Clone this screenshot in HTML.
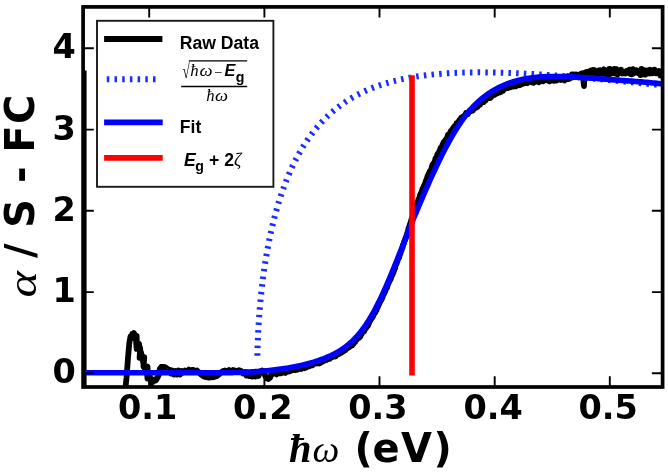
<!DOCTYPE html>
<html><head><meta charset="utf-8"><title>Absorption fit</title>
<style>html,body{margin:0;padding:0;background:#fff}svg{display:block}</style></head>
<body><svg width="668" height="472" viewBox="0 0 668 472">
<defs><clipPath id="ax"><rect x="83.1" y="6.9" width="579.5" height="380.1"/></clipPath></defs>
<rect width="668" height="472" fill="#fff"/>
<g clip-path="url(#ax)" fill="none" stroke-linejoin="round">
<path d="M83.69999999999999,70.5 V392" stroke="#000" stroke-width="5.8"/>
<path d="M125.00,392.00 L126.50,378.00 L128.00,358.00 L129.30,343.00 L130.50,336.50 L131.30,338.50 L132.20,334.00 L133.20,336.00 L134.00,333.00 L134.60,338.50 L136.64,335.73 L136.75,343.96 L135.95,339.70 L136.67,348.93 L139.00,343.66 L140.56,353.89 L140.16,348.12 L139.60,357.86 L140.95,352.09 L143.32,362.82 L144.28,357.05 L143.55,366.78 L143.44,361.52 L145.33,370.75 L147.50,366.48 L147.84,374.71 L147.01,371.45 L147.49,378.68 L149.74,376.41 L151.50,382.14 L151.20,383.50 L152.00,380.50 L152.80,382.00 L154.30,379.50 L155.80,380.50 L157.30,378.00 L158.80,375.00 L159.80,369.00 L161.30,367.00 L163.00,366.80 L165.00,367.20 L167.00,368.50 L168.70,370.50 L170.00,370.00 L171.00,373.50 L172.50,370.50 L174.00,374.50 L175.50,371.00 L177.00,374.50 L178.50,370.50 L180.00,374.50 L181.50,371.00 L183.00,372.50 L185.00,370.50 L187.00,371.50 L189.00,369.50 L191.00,370.50 L193.00,369.80 L195.00,371.00 L197.00,370.50 L199.00,372.50 L201.00,374.50 L203.00,376.00 L205.00,377.00 L208.00,377.50 L211.00,377.30 L214.00,377.00 L217.00,376.00 L219.00,374.50 L221.00,372.50 L223.00,371.00 L225.00,370.50 L227.00,371.50 L229.00,370.00 L231.00,371.50 L233.00,370.00 L235.00,370.50 L237.00,372.00 L239.00,370.20 L241.00,371.00 L243.00,373.50 L245.00,372.00 L246.50,375.50 L248.00,372.50 L249.50,376.00 L251.00,373.00 L252.50,376.50 L254.00,372.50 L255.50,376.50 L257.00,373.00 L258.50,376.00 L260.00,371.50 L262.00,370.50 L264.00,372.50 L265.50,376.50 L267.00,378.50 L268.50,379.00 L270.00,377.82 L270.50,376.30 L271.00,375.57 L271.50,373.56 L272.00,374.38 L272.50,373.92 L273.00,373.80 L273.50,373.12 L274.00,373.42 L274.50,373.00 L275.00,372.26 L275.50,373.86 L276.00,373.76 L276.50,374.30 L277.00,372.96 L277.50,372.53 L278.00,372.34 L278.50,371.52 L279.00,373.31 L279.50,371.69 L280.00,371.55 L280.50,372.19 L281.00,373.34 L281.50,372.35 L282.00,371.36 L282.50,371.50 L283.00,372.38 L283.50,371.73 L284.00,371.22 L284.50,371.52 L285.00,372.12 L285.50,372.88 L286.00,370.56 L286.50,370.90 L287.00,370.69 L287.50,369.78 L288.00,370.42 L288.50,370.26 L289.00,371.61 L289.50,370.66 L290.00,369.56 L290.50,370.97 L291.00,370.20 L291.50,369.18 L292.00,369.82 L292.50,369.71 L293.00,369.42 L293.50,369.88 L294.00,368.46 L294.50,369.45 L295.00,370.14 L295.50,369.92 L296.00,369.95 L296.50,369.83 L297.00,369.92 L297.50,368.18 L298.00,369.26 L298.50,367.48 L299.00,368.11 L299.50,367.19 L300.00,368.84 L300.50,368.87 L301.00,367.82 L301.50,368.86 L302.00,367.26 L302.50,367.61 L303.00,367.47 L303.50,366.60 L304.00,367.36 L304.50,368.11 L305.00,366.20 L305.50,367.20 L306.00,366.43 L306.50,367.43 L307.00,366.52 L307.50,366.49 L308.00,366.32 L308.50,365.94 L309.00,364.82 L309.50,366.32 L310.00,364.54 L310.50,365.35 L311.00,365.42 L311.50,364.41 L312.00,364.84 L312.50,365.28 L313.00,364.43 L313.50,363.76 L314.00,362.95 L314.50,363.40 L315.00,363.46 L315.50,363.34 L316.00,362.91 L316.50,363.53 L317.00,362.80 L317.50,362.90 L318.00,363.19 L318.50,362.12 L319.00,362.27 L319.50,363.43 L320.00,362.59 L320.50,361.16 L321.00,361.67 L321.50,361.86 L322.00,362.06 L322.50,361.24 L323.00,360.66 L323.50,360.35 L324.00,360.95 L324.50,360.56 L325.00,359.88 L325.50,359.86 L326.00,359.53 L326.50,359.97 L327.00,358.95 L327.50,359.41 L328.00,359.40 L328.50,358.97 L329.00,358.00 L329.50,359.02 L330.00,357.63 L330.50,358.03 L331.00,357.13 L331.50,356.33 L332.00,357.22 L332.50,357.02 L333.00,356.57 L333.50,356.53 L334.00,355.76 L334.50,355.46 L335.00,355.54 L335.50,356.46 L336.00,355.58 L336.50,354.57 L337.00,354.92 L337.50,354.07 L338.00,353.81 L338.50,354.28 L339.00,353.22 L339.50,352.30 L340.00,352.45 L340.50,352.72 L341.00,352.44 L341.50,352.77 L342.00,351.37 L342.50,351.87 L343.00,351.39 L343.50,350.75 L344.00,350.97 L344.50,350.45 L345.00,349.37 L345.50,350.10 L346.00,348.48 L346.50,348.84 L347.00,348.45 L347.50,348.31 L348.00,347.30 L348.50,347.30 L349.00,346.86 L349.50,347.09 L350.00,345.70 L350.50,345.77 L351.00,345.17 L351.50,344.17 L352.00,345.55 L352.50,343.97 L353.00,342.74 L353.50,343.87 L354.00,342.04 L354.50,342.35 L355.00,342.13 L355.50,340.81 L356.00,340.42 L356.50,339.85 L357.00,339.54 L357.50,338.20 L358.00,337.86 L358.50,337.89 L359.00,337.96 L359.50,337.16 L360.00,337.16 L360.50,336.00 L361.00,334.73 L361.50,334.31 L362.00,332.66 L362.50,332.57 L363.00,331.88 L363.50,331.90 L364.00,331.41 L364.50,330.06 L365.00,329.34 L365.50,328.09 L366.00,328.07 L366.50,327.46 L367.00,326.73 L367.50,325.21 L368.00,325.81 L368.50,324.49 L369.00,322.90 L369.50,321.75 L370.00,320.95 L370.50,320.28 L371.00,319.29 L371.50,318.66 L372.00,317.93 L372.50,317.36 L373.00,316.36 L373.50,314.80 L374.00,314.15 L374.50,312.83 L375.00,311.79 L375.50,312.16 L376.00,309.97 L376.50,310.29 L377.00,308.09 L377.50,307.42 L378.00,306.87 L378.50,305.31 L379.00,304.49 L379.50,303.13 L380.00,301.98 L380.50,301.10 L381.00,299.80 L381.50,299.92 L382.00,297.92 L382.50,297.82 L383.00,294.81 L383.50,294.76 L384.00,293.93 L384.50,292.38 L385.00,291.97 L385.50,290.61 L386.00,289.00 L386.50,288.22 L387.00,287.88 L387.50,285.82 L388.00,284.68 L388.50,283.13 L389.00,282.24 L389.50,280.33 L390.00,279.70 L390.50,279.62 L391.00,277.94 L391.50,276.51 L392.00,275.54 L392.50,274.71 L393.00,272.83 L393.50,272.32 L394.00,270.62 L394.50,268.92 L395.00,268.47 L395.50,265.34 L396.00,264.79 L396.50,263.92 L397.00,262.01 L397.50,261.06 L398.00,259.47 L398.50,258.10 L399.00,258.06 L399.50,255.98 L400.00,254.24 L400.50,253.52 L401.00,251.33 L401.50,250.47 L402.00,248.77 L402.50,247.98 L403.00,245.00 L403.50,244.67 L404.00,242.90 L404.50,240.81 L405.00,240.51 L405.50,238.06 L406.00,237.85 L406.50,235.76 L407.00,234.30 L407.50,232.41 L408.00,231.25 L408.50,228.19 L409.00,227.59 L409.50,225.61 L410.00,224.47 L410.50,222.68 L411.00,221.43 L411.50,219.06 L412.00,218.92 L412.50,217.46 L413.00,214.75 L413.50,213.37 L414.00,212.08 L414.50,211.19 L415.00,210.17 L415.50,207.14 L416.00,206.13 L416.50,204.55 L417.00,203.19 L417.50,201.58 L418.00,201.37 L418.50,199.22 L419.00,199.39 L419.50,197.76 L420.00,195.39 L420.50,194.10 L421.00,193.05 L421.50,192.90 L422.00,190.37 L422.50,188.74 L423.00,188.30 L423.50,187.29 L424.00,185.46 L424.50,185.52 L425.00,183.51 L425.50,182.41 L426.00,180.44 L426.50,179.70 L427.00,178.43 L427.50,176.17 L428.00,176.31 L428.50,173.92 L429.00,173.77 L429.50,171.76 L430.00,172.64 L430.50,170.51 L431.00,169.68 L431.50,168.59 L432.00,166.14 L432.50,164.62 L433.00,164.50 L433.50,164.14 L434.00,162.57 L434.50,161.90 L435.00,160.93 L435.50,158.41 L436.00,158.43 L436.50,158.40 L437.00,155.84 L437.50,153.95 L438.00,154.02 L438.50,152.88 L439.00,152.43 L439.50,150.65 L440.00,150.28 L440.50,148.04 L441.00,148.85 L441.50,148.36 L442.00,147.26 L442.50,144.59 L443.00,144.82 L443.50,142.47 L444.00,143.00 L444.50,141.89 L445.00,140.43 L445.50,140.41 L446.00,139.42 L446.50,139.07 L447.00,137.71 L447.50,136.95 L448.00,134.73 L448.50,134.41 L449.00,134.04 L449.50,133.73 L450.00,132.74 L450.50,132.93 L451.00,130.64 L451.50,130.32 L452.00,129.94 L452.50,128.93 L453.00,128.74 L453.50,127.40 L454.00,128.07 L454.50,126.32 L455.00,126.66 L455.50,125.32 L456.00,125.74 L456.50,123.27 L457.00,123.97 L457.50,122.79 L458.00,122.68 L458.50,122.78 L459.00,120.68 L459.50,120.01 L460.00,119.68 L460.50,119.98 L461.00,118.01 L461.50,118.82 L462.00,117.36 L462.50,116.95 L463.00,116.97 L463.50,116.99 L464.00,115.81 L464.50,115.42 L465.00,115.26 L465.50,114.64 L466.00,112.99 L466.50,113.62 L467.00,113.53 L467.50,113.80 L468.00,114.00 L468.50,112.66 L469.00,111.86 L469.50,110.75 L470.00,111.13 L470.50,111.27 L471.00,111.27 L471.50,109.43 L472.00,109.90 L472.50,109.99 L473.00,110.42 L473.50,108.96 L474.00,108.07 L474.50,107.64 L475.00,107.54 L475.50,106.99 L476.00,107.70 L476.50,107.50 L477.00,106.87 L477.50,106.81 L478.00,105.19 L478.50,105.36 L479.00,104.38 L479.50,104.27 L480.00,104.72 L480.50,103.39 L481.00,101.63 L481.50,102.42 L482.00,101.68 L482.50,100.70 L483.00,100.85 L483.50,101.77 L484.00,101.94 L484.50,99.95 L485.00,100.70 L485.50,100.47 L486.00,98.36 L486.50,98.85 L487.00,98.50 L487.50,98.33 L488.00,96.65 L488.50,97.26 L489.00,98.01 L489.50,97.84 L490.00,97.96 L490.50,95.98 L491.00,97.37 L491.50,96.14 L492.00,94.27 L492.50,95.61 L493.00,94.45 L493.50,94.84 L494.00,94.07 L494.50,94.81 L495.00,93.79 L495.50,93.09 L496.00,93.80 L496.50,92.97 L497.00,92.18 L497.50,93.25 L498.00,91.66 L498.50,91.22 L499.00,91.05 L499.50,90.06 L500.00,90.55 L500.50,92.24 L501.00,89.78 L501.50,90.28 L502.00,89.15 L502.50,89.32 L503.00,90.82 L503.50,90.10 L504.00,88.65 L504.50,88.94 L505.00,88.05 L505.50,87.87 L506.00,87.56 L506.50,87.37 L507.00,88.17 L507.50,88.20 L508.00,87.92 L508.50,87.18 L509.00,86.01 L509.50,86.89 L510.00,85.99 L510.50,87.32 L511.00,86.87 L511.50,86.86 L512.00,85.77 L512.50,84.37 L513.00,86.53 L513.50,86.60 L514.00,84.15 L514.50,85.36 L515.00,86.10 L515.50,84.02 L516.00,86.30 L516.50,84.34 L517.00,83.57 L517.50,85.53 L518.00,84.47 L518.50,83.51 L519.00,84.70 L519.50,82.12 L520.00,85.25 L520.50,82.84 L521.00,83.67 L521.50,82.96 L522.00,83.56 L522.50,83.84 L523.00,82.23 L523.50,83.53 L524.00,82.47 L524.50,82.01 L525.00,82.31 L525.50,81.52 L526.00,81.60 L526.50,83.05 L527.00,81.97 L527.50,83.03 L528.00,82.31 L528.50,80.91 L529.00,80.04 L529.50,81.04 L530.00,81.81 L530.50,81.50 L531.00,80.66 L531.50,82.25 L532.00,79.67 L532.50,80.04 L533.00,81.23 L533.50,82.86 L534.00,81.35 L534.50,79.99 L535.00,81.39 L535.50,81.41 L536.00,81.58 L536.50,80.28 L537.00,79.86 L537.50,80.66 L538.00,80.88 L538.50,81.92 L539.00,82.25 L539.50,79.66 L540.00,79.80 L540.50,80.18 L541.00,79.96 L541.50,80.61 L542.00,80.57 L542.50,80.31 L543.00,81.30 L543.50,79.84 L544.00,78.95 L544.50,78.43 L545.00,78.90 L545.50,78.85 L546.00,78.01 L546.50,80.40 L547.00,79.92 L547.50,79.30 L548.00,78.82 L548.50,78.12 L549.00,78.73 L549.50,81.37 L550.00,77.62 L550.50,79.67 L551.00,80.22 L551.50,79.61 L552.00,79.14 L552.50,80.17 L553.00,78.32 L553.50,79.91 L554.00,80.75 L554.50,78.30 L555.00,78.49 L555.50,79.41 L556.00,80.22 L556.50,80.55 L557.00,79.87 L557.50,78.51 L558.00,78.04 L558.50,79.37 L559.00,79.50 L559.50,77.98 L560.00,79.12 L560.50,79.36 L561.00,80.03 L561.50,77.91 L562.00,79.41 L562.50,77.55 L563.00,78.22 L563.50,78.48 L564.00,80.04 L564.50,80.44 L565.00,78.47 L565.50,78.60 L566.00,79.02 L566.50,76.34 L567.00,78.50 L567.50,76.18 L568.00,79.18 L568.50,78.85 L569.00,77.69 L569.50,76.11 L570.00,78.75 L570.50,77.06 L571.00,76.77 L571.50,77.17 L572.00,74.42 L572.50,76.74 L573.00,77.26 L573.50,76.37 L574.00,76.00 L574.50,74.58 L575.00,76.32 L575.50,75.66 L576.00,75.30 L576.50,74.49 L577.00,76.07 L577.50,76.43 L578.00,75.28 L578.50,75.79 L579.00,76.21 L579.50,76.43 L580.00,74.64 L580.50,73.99 L581.00,73.63 L581.50,74.05 L582.00,74.63 L582.50,75.01 L583.00,73.17 L583.50,82.00 L584.00,86.00 L584.50,75.06 L585.00,72.82 L585.50,73.70 L586.00,72.20 L586.50,72.67 L587.00,72.07 L587.50,75.18 L588.00,73.31 L588.50,72.54 L589.00,71.42 L589.50,71.81 L590.00,73.37 L590.50,74.83 L591.00,70.52 L591.50,71.18 L592.00,72.17 L592.50,71.50 L593.00,70.01 L593.50,72.34 L594.00,73.35 L594.50,70.00 L595.00,72.53 L595.50,73.59 L596.00,73.60 L596.50,71.55 L597.00,75.06 L597.50,72.94 L598.00,70.92 L598.50,73.55 L599.00,70.41 L599.50,73.41 L600.00,70.17 L600.50,73.24 L601.00,71.16 L601.50,73.73 L602.00,73.14 L602.50,72.69 L603.00,72.10 L603.50,73.64 L604.00,69.28 L604.50,72.65 L605.00,72.61 L605.50,72.83 L606.00,73.23 L606.50,75.00 L607.00,72.16 L607.50,73.19 L608.00,72.21 L608.50,74.36 L609.00,68.95 L609.50,74.55 L610.00,70.94 L610.50,68.94 L611.00,70.34 L611.50,71.71 L612.00,72.27 L612.50,71.91 L613.00,73.22 L613.50,71.93 L614.00,71.88 L614.50,68.93 L615.00,72.72 L615.50,73.52 L616.00,71.34 L616.50,69.12 L617.00,69.94 L617.50,74.54 L618.00,71.06 L618.50,70.96 L619.00,70.73 L619.50,73.02 L620.00,71.08 L620.50,70.64 L621.00,69.66 L621.50,71.81 L622.00,73.51 L622.50,71.74 L623.00,73.32 L623.50,72.24 L624.00,72.19 L624.50,72.24 L625.00,72.02 L625.50,73.54 L626.00,72.71 L626.50,71.07 L627.00,72.16 L627.50,71.84 L628.00,72.71 L628.50,72.24 L629.00,72.60 L629.50,69.68 L630.00,72.55 L630.50,74.00 L631.00,69.87 L631.50,74.45 L632.00,72.43 L632.50,71.64 L633.00,69.16 L633.50,73.66 L634.00,70.46 L634.50,71.18 L635.00,72.82 L635.50,70.38 L636.00,70.44 L636.50,70.18 L637.00,71.81 L637.50,72.90 L638.00,72.61 L638.50,72.62 L639.00,71.45 L639.50,72.21 L640.00,70.92 L640.50,75.12 L641.00,72.31 L641.50,68.94 L642.00,70.33 L642.50,74.53 L643.00,69.87 L643.50,71.34 L644.00,72.66 L644.50,70.31 L645.00,73.72 L645.50,74.69 L646.00,70.75 L646.50,73.84 L647.00,70.66 L647.50,70.50 L648.00,72.47 L648.50,72.46 L649.00,71.16 L649.50,73.44 L650.00,69.79 L650.50,70.77 L651.00,70.43 L651.50,73.34 L652.00,73.43 L652.50,73.22 L653.00,70.13 L653.50,72.40 L654.00,72.93 L654.50,69.65 L655.00,70.93 L655.50,73.27 L656.00,73.38 L656.50,72.68 L657.00,73.16 L657.50,72.83 L658.00,72.57 L658.50,72.17 L659.00,70.98 L659.50,71.99 L660.00,71.76 L660.50,75.62 L661.00,72.86 L661.50,72.45 L662.00,72.12 L662.50,72.33" stroke="#000" stroke-width="5.8" stroke-linejoin="round"/>
<path d="M257.35,355.79 L257.42,352.50 L257.52,349.21 L257.62,345.93 L257.74,342.65 L257.87,339.38 L258.01,336.11 L258.17,332.85 L258.34,329.60 L258.52,326.35 L258.72,323.11 L258.93,319.89 L259.16,316.67 L259.39,313.46 L259.65,310.26 L259.91,307.07 L260.19,303.90 L260.48,300.73 L260.79,297.58 L261.10,294.44 L261.44,291.32 L261.78,288.21 L262.14,285.11 L262.51,282.03 L262.90,278.97 L263.30,275.92 L263.71,272.89 L264.14,269.87 L264.58,266.87 L265.03,263.89 L265.50,260.93 L265.98,257.99 L266.47,255.06 L266.98,252.16 L267.50,249.27 L268.03,246.41 L268.58,243.56 L269.14,240.74 L269.71,237.94 L270.30,235.15 L270.90,232.40 L271.51,229.66 L272.14,226.94 L272.78,224.25 L273.43,221.58 L274.10,218.94 L274.78,216.31 L275.48,213.71 L276.19,211.14 L276.91,208.59 L277.64,206.06 L278.39,203.56 L279.15,201.08 L279.93,198.63 L280.72,196.20 L281.52,193.80 L282.34,191.42 L283.16,189.07 L284.01,186.75 L284.86,184.45 L285.73,182.17 L286.62,179.92 L287.51,177.70 L288.42,175.51 L289.34,173.34 L290.28,171.19 L291.23,169.08 L292.19,166.99 L293.17,164.92 L294.16,162.88 L295.16,160.87 L296.18,158.89 L297.21,156.93 L298.26,154.99 L299.31,153.09 L300.38,151.21 L301.47,149.36 L302.57,147.53 L303.68,145.73 L304.80,143.95 L305.94,142.20 L307.09,140.48 L308.26,138.79 L309.43,137.11 L310.63,135.47 L311.83,133.85 L313.05,132.26 L314.28,130.69 L315.53,129.15 L316.79,127.63 L318.06,126.14 L319.34,124.67 L320.64,123.23 L321.96,121.81 L323.28,120.42 L324.62,119.05 L325.98,117.70 L327.34,116.38 L328.72,115.09 L330.11,113.82 L331.52,112.57 L332.94,111.34 L334.37,110.14 L335.82,108.96 L337.28,107.81 L338.76,106.68 L340.24,105.57 L341.74,104.48 L343.26,103.41 L344.79,102.37 L346.33,101.35 L347.88,100.35 L349.45,99.37 L351.03,98.42 L352.63,97.48 L354.23,96.57 L355.85,95.67 L357.49,94.80 L359.14,93.95 L360.80,93.11 L361.95,92.55 L365.76,90.78 L369.57,89.14 L373.38,87.61 L377.19,86.20 L381.00,84.88 L384.80,83.66 L388.61,82.53 L392.42,81.49 L396.23,80.53 L400.04,79.64 L403.85,78.81 L407.66,78.06 L411.46,77.37 L415.27,76.73 L419.08,76.15 L422.89,75.63 L426.70,75.15 L430.51,74.72 L434.32,74.33 L438.13,73.98 L441.93,73.68 L445.74,73.41 L449.55,73.17 L453.36,72.97 L457.17,72.80 L460.98,72.66 L464.79,72.55 L468.60,72.47 L472.40,72.41 L476.21,72.37 L480.02,72.36 L483.83,72.37 L487.64,72.41 L491.45,72.46 L495.26,72.53 L499.06,72.62 L502.87,72.72 L506.68,72.84 L510.49,72.98 L514.30,73.13 L518.11,73.30 L521.92,73.48 L525.73,73.67 L529.53,73.87 L533.34,74.09 L537.15,74.31 L540.96,74.55 L544.77,74.80 L548.58,75.05 L552.39,75.31 L556.20,75.59 L560.00,75.87 L563.81,76.16 L567.62,76.45 L571.43,76.75 L575.24,77.06 L579.05,77.38 L582.86,77.70 L586.66,78.03 L590.47,78.36 L594.28,78.69 L598.09,79.04 L601.90,79.38 L605.71,79.73 L609.52,80.09 L613.33,80.45 L617.13,80.81 L620.94,81.17 L624.75,81.54 L628.56,81.91 L632.37,82.29 L636.18,82.67 L639.99,83.05 L643.80,83.43 L647.60,83.81 L651.41,84.20 L655.22,84.59 L659.03,84.98 L662.84,85.37" stroke="#1a2cff" stroke-width="6.0" stroke-dasharray="2.5 5.2"/>
<path d="M83.10,372.70 L85.04,372.70 L86.98,372.70 L88.91,372.70 L90.85,372.70 L92.79,372.70 L94.73,372.70 L96.67,372.70 L98.61,372.70 L100.54,372.70 L102.48,372.70 L104.42,372.70 L106.36,372.70 L108.30,372.70 L110.23,372.70 L112.17,372.70 L114.11,372.70 L116.05,372.70 L117.99,372.70 L119.92,372.70 L121.86,372.70 L123.80,372.70 L125.74,372.70 L127.68,372.70 L129.62,372.70 L131.55,372.70 L133.49,372.70 L135.43,372.70 L137.37,372.70 L139.31,372.70 L141.24,372.70 L143.18,372.70 L145.12,372.70 L147.06,372.70 L149.00,372.70 L150.93,372.70 L152.87,372.70 L154.81,372.70 L156.75,372.70 L158.69,372.70 L160.63,372.70 L162.56,372.70 L164.50,372.70 L166.44,372.70 L168.38,372.70 L170.32,372.70 L172.25,372.70 L174.19,372.70 L176.13,372.70 L178.07,372.70 L180.01,372.70 L181.94,372.70 L183.88,372.70 L185.82,372.70 L187.76,372.70 L189.70,372.70 L191.64,372.70 L193.57,372.70 L195.51,372.70 L197.45,372.70 L199.39,372.70 L201.33,372.70 L203.26,372.70 L205.20,372.70 L207.14,372.70 L209.08,372.70 L211.02,372.70 L212.95,372.70 L214.89,372.70 L216.83,372.70 L218.77,372.70 L220.71,372.70 L222.65,372.70 L224.58,372.70 L226.52,372.70 L228.46,372.67 L230.40,372.63 L232.34,372.59 L234.27,372.54 L236.21,372.49 L238.15,372.43 L240.09,372.36 L242.03,372.29 L243.96,372.21 L245.90,372.13 L247.84,372.04 L249.78,371.94 L251.72,371.83 L253.66,371.72 L255.59,371.59 L257.53,371.46 L259.47,371.32 L261.41,371.17 L263.35,371.02 L265.28,370.85 L267.22,370.67 L269.16,370.48 L271.10,370.28 L273.04,370.07 L274.97,369.84 L276.91,369.61 L278.85,369.36 L280.79,369.09 L282.73,368.82 L284.67,368.53 L286.60,368.22 L288.54,367.90 L290.48,367.56 L292.42,367.21 L294.36,366.84 L296.29,366.45 L298.23,366.04 L300.17,365.62 L302.11,365.17 L304.05,364.71 L305.98,364.23 L307.92,363.72 L309.86,363.19 L311.80,362.64 L313.74,362.07 L315.68,361.47 L317.61,360.84 L319.55,360.18 L321.49,359.49 L323.43,358.77 L325.37,358.01 L327.30,357.21 L329.24,356.36 L331.18,355.47 L333.12,354.52 L335.06,353.52 L336.99,352.45 L338.93,351.31 L340.87,350.10 L342.81,348.82 L344.75,347.44 L346.69,345.97 L348.62,344.41 L350.56,342.73 L352.50,340.95 L354.44,339.04 L356.38,337.00 L358.31,334.82 L360.25,332.50 L362.19,330.02 L364.13,327.39 L366.07,324.59 L368.00,321.64 L369.94,318.51 L371.88,315.23 L373.82,311.78 L375.76,308.17 L377.70,304.40 L379.63,300.49 L381.57,296.42 L383.51,292.23 L385.45,287.90 L387.39,283.46 L389.32,278.91 L391.26,274.26 L393.20,269.54 L395.14,264.76 L397.08,259.93 L399.01,255.06 L400.95,250.18 L402.89,245.28 L404.83,240.39 L406.77,235.52 L408.71,230.66 L410.64,225.84 L412.58,221.05 L414.52,216.31 L416.46,211.61 L418.40,206.96 L420.33,202.36 L422.27,197.82 L424.21,193.33 L426.15,188.89 L428.09,184.51 L430.02,180.18 L431.96,175.92 L433.90,171.72 L435.84,167.58 L437.78,163.51 L439.72,159.52 L441.65,155.60 L443.59,151.77 L445.53,148.02 L447.47,144.37 L449.41,140.81 L451.34,137.36 L453.28,134.01 L455.22,130.79 L457.16,127.68 L459.10,124.70 L461.03,121.84 L462.97,119.11 L464.91,116.51 L466.85,114.03 L468.79,111.67 L470.73,109.43 L472.66,107.31 L474.60,105.30 L476.54,103.39 L478.48,101.58 L480.42,99.87 L482.35,98.25 L484.29,96.71 L486.23,95.26 L488.17,93.88 L490.11,92.58 L492.04,91.35 L493.98,90.19 L495.92,89.10 L497.86,88.06 L499.80,87.09 L501.74,86.17 L503.67,85.30 L505.61,84.49 L507.55,83.73 L509.49,83.02 L511.43,82.36 L513.36,81.74 L515.30,81.17 L517.24,80.64 L519.18,80.15 L521.12,79.69 L523.05,79.28 L524.99,78.90 L526.93,78.55 L528.87,78.24 L530.81,77.96 L532.75,77.70 L534.68,77.48 L536.62,77.28 L538.56,77.11 L540.50,76.96 L542.44,76.84 L544.37,76.73 L546.31,76.65 L548.25,76.59 L550.19,76.54 L552.13,76.52 L554.06,76.50 L556.00,76.51 L557.94,76.52 L559.88,76.55 L561.82,76.60 L563.76,76.65 L565.69,76.71 L567.63,76.79 L569.57,76.87 L571.51,76.96 L573.45,77.05 L575.38,77.16 L577.32,77.27 L579.26,77.38 L581.20,77.50 L583.14,77.63 L585.07,77.75 L587.01,77.88 L588.95,78.02 L590.89,78.15 L592.83,78.29 L594.77,78.43 L596.70,78.57 L598.64,78.71 L600.58,78.85 L602.52,78.99 L604.46,79.14 L606.39,79.28 L608.33,79.42 L610.27,79.56 L612.21,79.71 L614.15,79.85 L616.08,79.99 L618.02,80.13 L619.96,80.27 L621.90,80.42 L623.84,80.56 L625.78,80.70 L627.71,80.85 L629.65,80.99 L631.59,81.14 L633.53,81.29 L635.47,81.43 L637.40,81.59 L639.34,81.74 L641.28,81.90 L643.22,82.06 L645.16,82.23 L647.09,82.40 L649.03,82.58 L650.97,82.76 L652.91,82.95 L654.85,83.15 L656.79,83.35 L658.72,83.57 L660.66,83.79 L662.60,84.03" stroke="#0000ff" stroke-width="5.6"/>
<path d="M412,78 V372.7" stroke="#ff0000" stroke-width="5.6" stroke-linecap="square"/>
</g>
<g stroke="#000" stroke-width="1.9" fill="none"><path d="M149.2,387.0 v-10.7 M149.2,6.9 v10.7"/><path d="M264.4,387.0 v-10.7 M264.4,6.9 v10.7"/><path d="M379.5,387.0 v-10.7 M379.5,6.9 v10.7"/><path d="M494.7,387.0 v-10.7 M494.7,6.9 v10.7"/><path d="M609.8,387.0 v-10.7 M609.8,6.9 v10.7"/><path d="M83.1,373.3 h10.7 M662.6,373.3 h-10.7"/><path d="M83.1,292.1 h10.7 M662.6,292.1 h-10.7"/><path d="M83.1,210.8 h10.7 M662.6,210.8 h-10.7"/><path d="M83.1,129.6 h10.7 M662.6,129.6 h-10.7"/><path d="M83.1,48.3 h10.7 M662.6,48.3 h-10.7"/></g>
<rect x="83.1" y="6.9" width="579.5" height="380.1" fill="none" stroke="#000" stroke-width="3.7"/>
<g font-family="'DejaVu Sans', 'Liberation Sans', sans-serif" font-weight="bold" font-size="33.5" fill="#000">
<text x="147.6" y="418.6" text-anchor="middle">0.1</text>
<text x="262.8" y="418.6" text-anchor="middle">0.2</text>
<text x="377.9" y="418.6" text-anchor="middle">0.3</text>
<text x="493.1" y="418.6" text-anchor="middle">0.4</text>
<text x="608.2" y="418.6" text-anchor="middle">0.5</text>
<text x="75.7" y="383.3" text-anchor="end">0</text>
<text x="75.7" y="302.1" text-anchor="end">1</text>
<text x="75.7" y="220.8" text-anchor="end">2</text>
<text x="75.7" y="139.6" text-anchor="end">3</text>
<text x="75.7" y="58.3" text-anchor="end">4</text>
</g>
<g fill="#000">
<text x="289" y="461.8" font-family="'Liberation Serif', serif" font-style="italic" font-weight="bold" font-size="40.5">ħ</text>
<text x="312.6" y="461.8" font-family="'Liberation Serif', serif" font-style="italic" font-size="38">ω</text>
<text x="354.6" y="461.5" font-family="'DejaVu Sans', 'Liberation Sans', sans-serif" font-weight="bold" font-size="40" dx="0 -0.5 1.6 1.3">(eV)</text>
<g transform="translate(34.3,297.5) rotate(-90)">
<text transform="scale(1.27,1)" x="0" y="1.5" font-family="'Liberation Serif', serif" font-style="italic" font-size="39.5">α</text>
<text x="39.5" y="0" font-family="'DejaVu Sans', 'Liberation Sans', sans-serif" font-weight="bold" font-size="40" dx="0 0.9 0.9 0.9 0.9 0.9 -1.1 1.4">/ S - FC</text>
</g>
</g>
<rect x="97" y="20.8" width="176.4" height="166" fill="#fff" stroke="#1a1a1a" stroke-width="1.9"/>
<g fill="none" stroke-width="5.8">
<path d="M107,39 H159.5" stroke="#000" stroke-linecap="square"/>
<path d="M106.8,79.2 H160" stroke="#1a2cff" stroke-width="6.0" stroke-dasharray="2.5 5.2"/>
<path d="M107,122.3 H159.8" stroke="#0000ff" stroke-linecap="square"/>
<path d="M107,157.8 H159.8" stroke="#ff0000" stroke-linecap="square"/>
</g>
<g font-family="'Liberation Sans', sans-serif" font-weight="bold" font-size="17.6" fill="#000">
<text x="179.8" y="48.8">Raw Data</text>
<text x="179.8" y="132.8">Fit</text>
<text x="184" y="166.1" font-style="italic">E</text>
<text x="195.3" y="171.2" font-size="14.2">g</text>
<text x="209" y="166.1">+ 2</text>
<text x="234" y="166.1" font-family="'Liberation Serif', serif" font-style="italic" font-weight="normal" font-size="18">ζ</text>
<text x="224.6" y="75.7" font-style="italic" font-size="16.3">E</text>
<text x="235.8" y="81.9" font-size="14.2">g</text>
</g>
<g font-family="'Liberation Serif', serif" font-style="italic" font-size="16.8" fill="#000">
<text transform="translate(182.6,78.0) scale(0.62,1)" font-style="normal" font-size="21.3">√</text>
<text x="190.2" y="75.7">ħ</text>
<text transform="translate(199.4,75.7) scale(1.1,1)">ω</text>
<text x="214.1" y="76.9" font-style="normal" font-size="14.6">−</text>
<text x="206.2" y="100.9">ħ</text>
<text transform="translate(214.9,100.9) scale(1.1,1)">ω</text>
</g>
<path d="M181.2,86.6 H247.2" stroke="#000" stroke-width="1.5"/>
<path d="M188.9,60.9 H247.2" stroke="#000" stroke-width="1.2"/>
</svg></body></html>
